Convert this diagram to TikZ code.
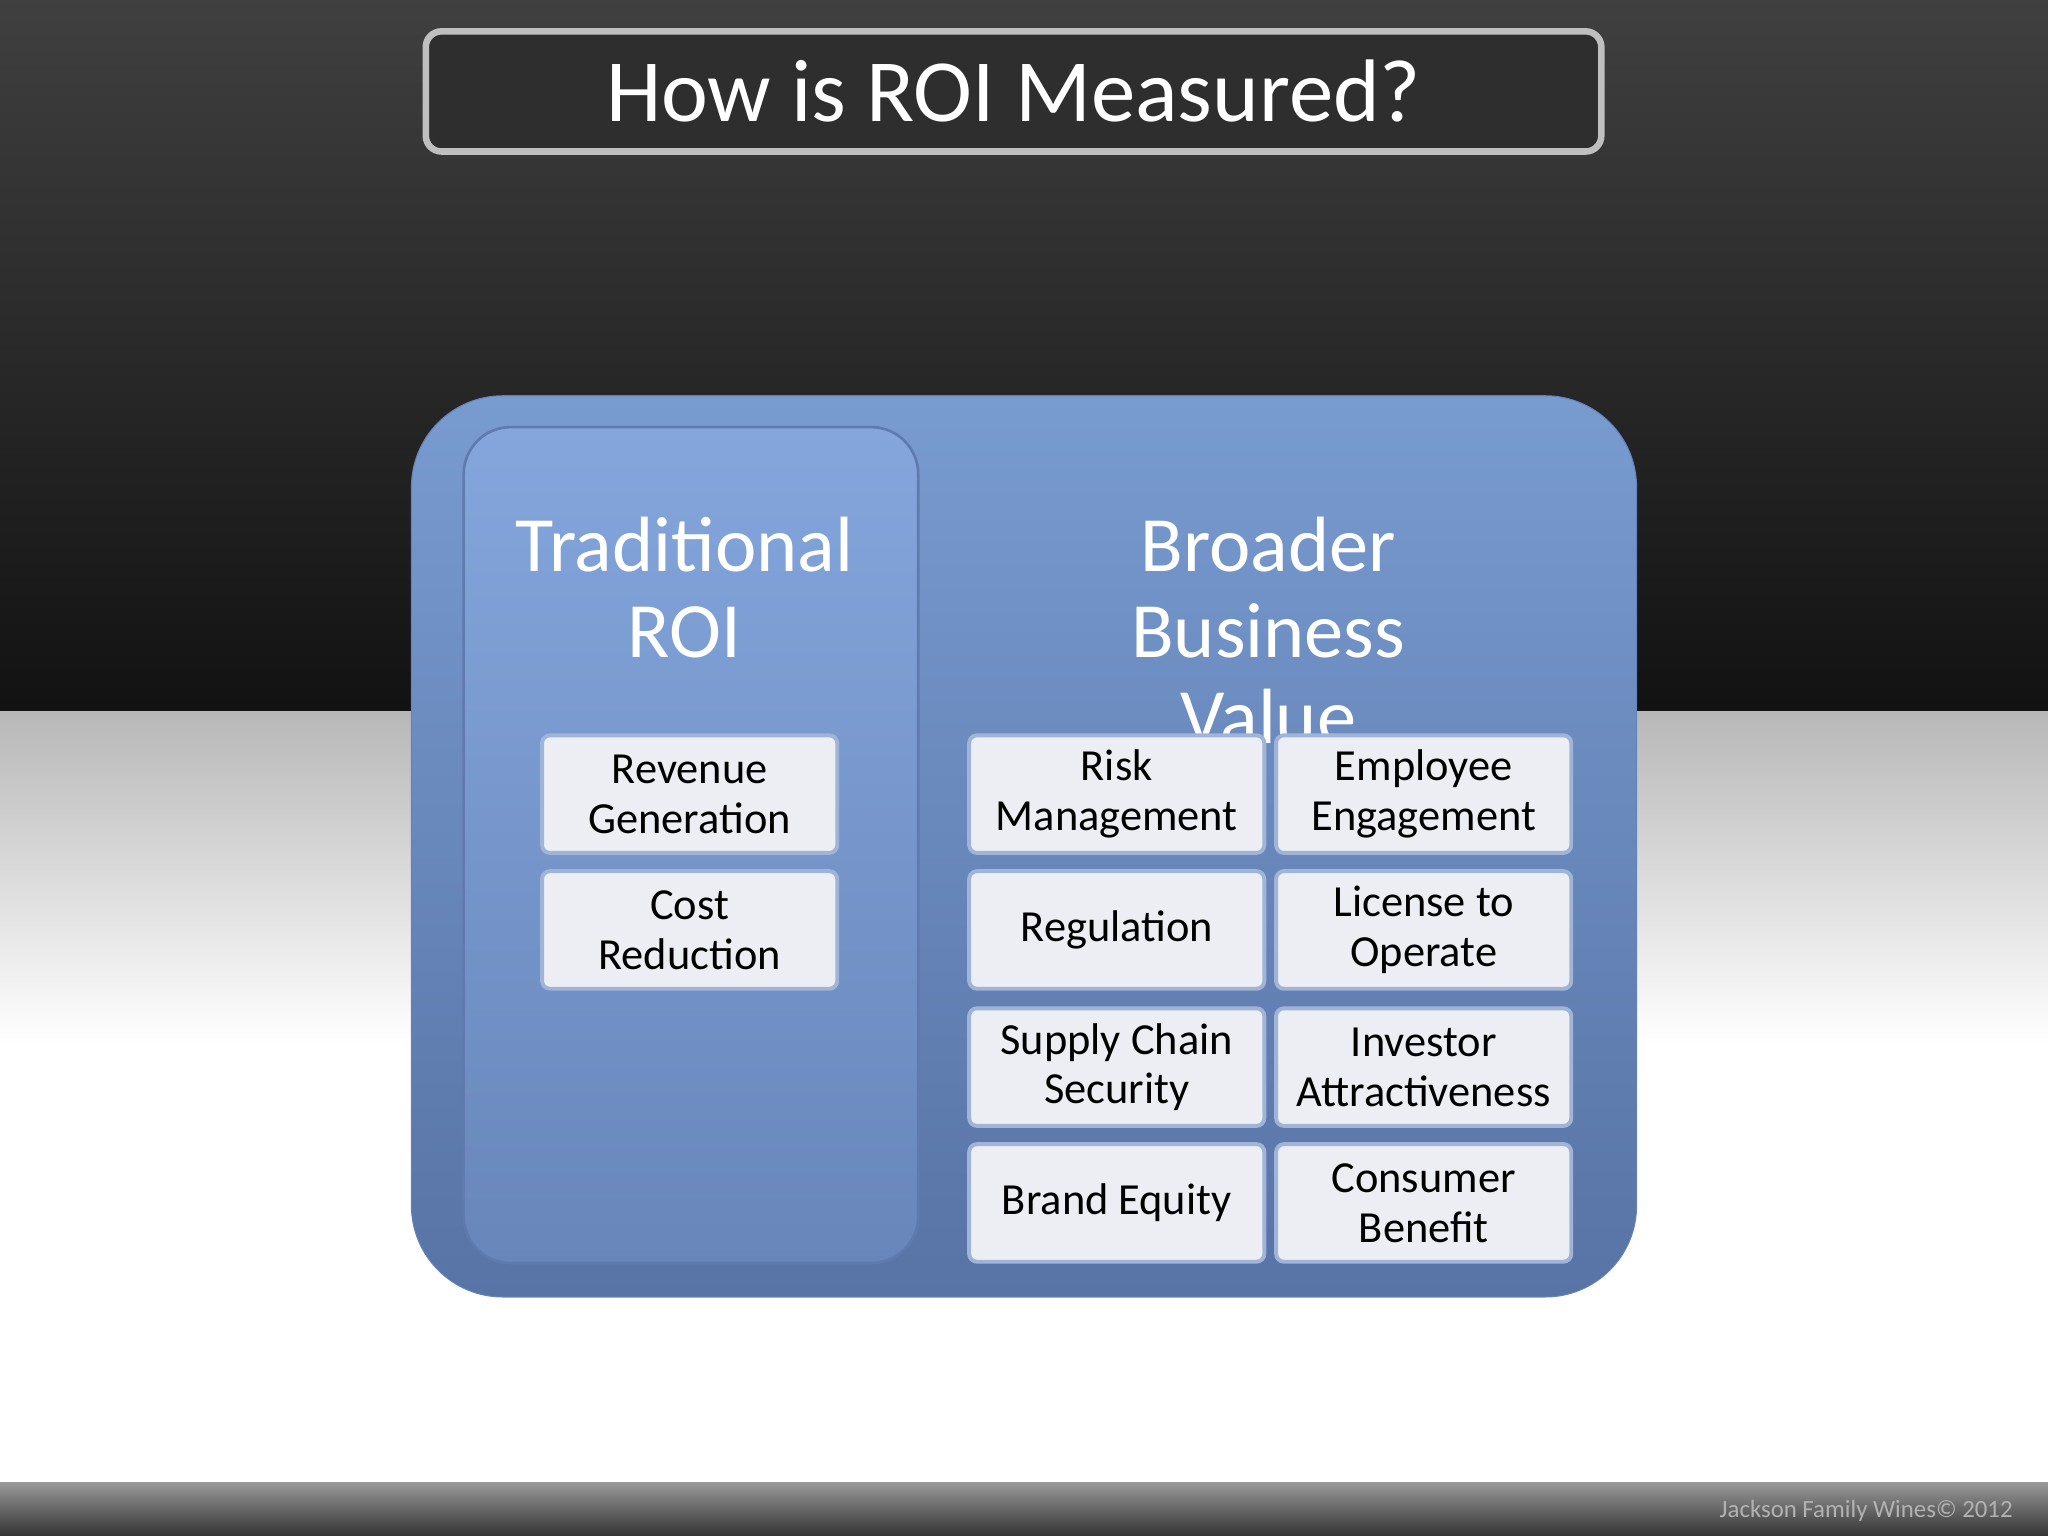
\documentclass[tikz,border=0pt]{standalone}
\usepackage{fontspec}
\setmainfont{Carlito}
\definecolor{boxfill}{RGB}{236,238,243}
\definecolor{boxdraw}{RGB}{160,180,215}
\begin{document}
\begin{tikzpicture}[x=0.5pt,y=-0.5pt,
  sbox/.style={draw=boxdraw,line width=1.5pt,rounded corners=3pt,fill=boxfill,
    minimum width=113pt,minimum height=45pt,inner sep=2pt,align=center,font=\fontsize{17}{19}\selectfont,text=black},
  big/.style={text=white,align=center,font=\fontsize{30}{33}\selectfont}]
\useasboundingbox (0,0) rectangle (1568,1176);
\shade[top color=black!75,bottom color=black!93] (0,0) rectangle (1568,545);
\shade[top color=black!28,bottom color=white] (0,545) rectangle (1568,800);
\fill[white] (0,800) rectangle (1568,1135);
\shade[top color=black!40,bottom color=black!80] (0,1135) rectangle (1568,1176);
\node[anchor=east,text=black!30,font=\fontsize{9.5}{10}\selectfont] (foot) at (1548,1157) {Jackson Family Wines© 2012};
\node[draw=black!25,line width=2.5pt,rounded corners=6pt,fill=black!82,minimum width=450pt,minimum height=46pt,
  text=white,font=\fontsize{34}{36}\selectfont] (title) at (776,70) {How is ROI Measured?};
\shade[rounded corners=35pt,top color={rgb,255:red,120;green,155;blue,208},bottom color={rgb,255:red,88;green,115;blue,165},draw={rgb,255:red,100;green,130;blue,185}] (315,303) rectangle (1253,993);
\shade[rounded corners=18pt,top color={rgb,255:red,132;green,166;blue,220},bottom color={rgb,255:red,104;green,134;blue,186},draw={rgb,255:red,95;green,122;blue,175},line width=1pt] (355,327) rectangle (703,967);
\node[big] (trad) at (524,450) {Traditional\\ROI};
\node[big] (broad) at (971,483) {Broader\\Business\\Value};
\node[sbox] (rev) at (528,608) {Revenue\\Generation};
\node[sbox] (cost) at (528,712) {Cost\\Reduction};
\node[sbox] (risk) at (855,608) {Risk\\Management};
\node[sbox] (emp) at (1090,608) {Employee\\Engagement};
\node[sbox] (reg) at (855,712) {Regulation};
\node[sbox] (lic) at (1090,712) {License to\\Operate};
\node[sbox] (sup) at (855,817) {Supply Chain\\Security};
\node[sbox] (inv) at (1090,817) {Investor\\Attractiveness};
\node[sbox] (brand) at (855,921) {Brand Equity};
\node[sbox] (cons) at (1090,921) {Consumer\\Benefit};
\end{tikzpicture}
\end{document}
